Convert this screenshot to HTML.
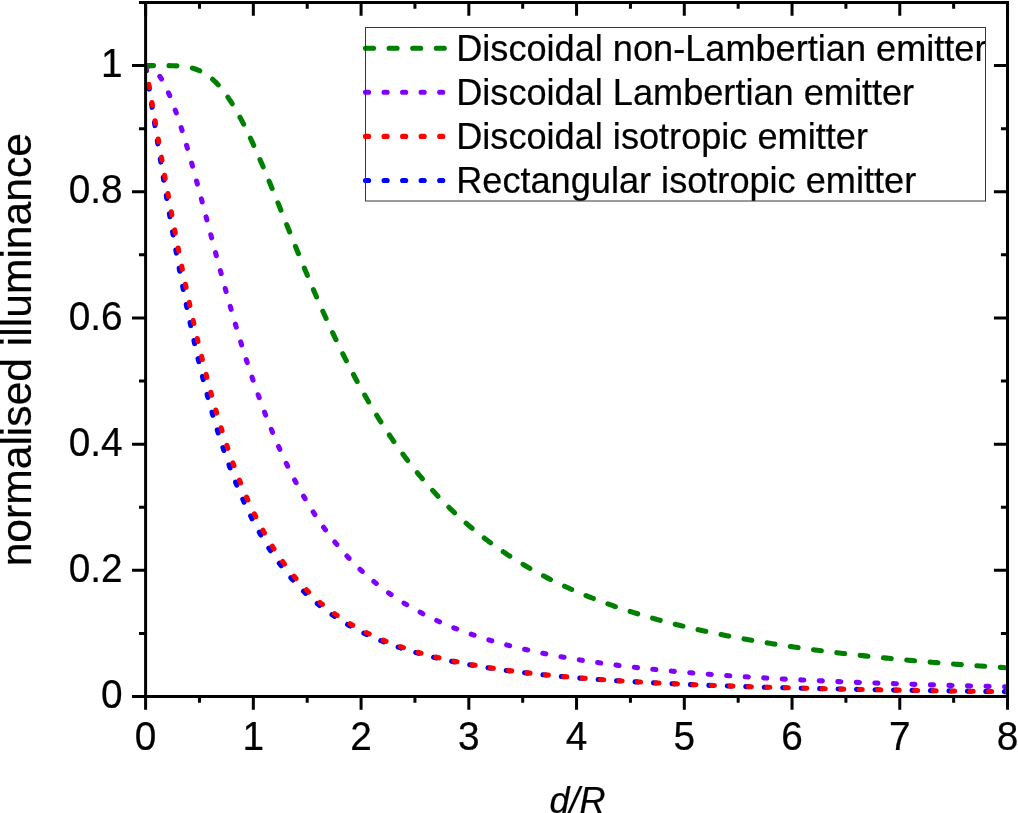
<!DOCTYPE html>
<html lang="en">
<head>
<meta charset="utf-8">
<title>Normalised illuminance versus d/R</title>
<style>
html,body{margin:0;padding:0;background:#fff;}
body{width:1018px;height:813px;overflow:hidden;}
svg{display:block;}
text{font-family:"Liberation Sans",Arial,Helvetica,sans-serif;fill:#000;stroke:#000;stroke-width:0.22;}
.curve{fill:none;stroke-width:5.1;stroke-linecap:round;stroke-linejoin:round;}
</style>
</head>
<body>
<svg width="1018" height="813" viewBox="0 0 1018 813">
<rect x="0" y="0" width="1018" height="813" fill="#ffffff"/>
<defs><clipPath id="plot"><rect x="145.60" y="2.51" width="861.92" height="693.99"/></clipPath></defs>
<g class="curve" clip-path="url(#plot)">
<path d="M145.60,65.60 L147.76,79.50 L149.92,93.37 L152.08,107.19 L154.24,120.95 L156.40,134.61 L158.56,148.15 L160.72,161.56 L162.88,174.81 L165.04,187.89 L167.20,200.78 L169.36,213.46 L171.52,225.92 L173.68,238.16 L175.84,250.15 L178.00,261.90 L180.16,273.39 L182.32,284.62 L184.48,295.59 L186.64,306.29 L188.80,316.72 L190.96,326.89 L193.12,336.78 L195.28,346.41 L197.44,355.77 L199.61,364.87 L201.77,373.71 L203.93,382.30 L206.09,390.63 L208.25,398.72 L210.41,406.57 L212.57,414.19 L214.73,421.58 L216.89,428.74 L219.05,435.68 L221.21,442.41 L223.37,448.94 L225.53,455.27 L227.69,461.40 L229.85,467.34 L232.01,473.10 L234.17,478.68 L236.33,484.09 L238.49,489.33 L240.65,494.42 L242.81,499.34 L244.97,504.12 L247.13,508.74 L249.29,513.23 L251.45,517.58 L253.61,521.80 L255.77,525.89 L257.93,529.86 L260.09,533.71 L262.25,537.45 L264.41,541.07 L266.57,544.58 L268.73,548.00 L270.89,551.31 L273.05,554.52 L275.21,557.64 L277.37,560.67 L279.53,563.61 L281.69,566.47 L283.85,569.25 L286.01,571.94 L288.17,574.56 L290.33,577.11 L292.49,579.59 L294.65,581.99 L296.81,584.33 L298.97,586.61 L301.13,588.82 L303.29,590.97 L305.45,593.06 L307.62,595.10 L309.78,597.08 L311.94,599.01 L314.10,600.89 L316.26,602.72 L318.42,604.50 L320.58,606.24 L322.74,607.93 L324.90,609.57 L327.06,611.18 L329.22,612.74 L331.38,614.27 L333.54,615.75 L335.70,617.20 L337.86,618.61 L340.02,619.99 L342.18,621.33 L344.34,622.64 L346.50,623.92 L348.66,625.17 L350.82,626.39 L352.98,627.57 L355.14,628.74 L357.30,629.87 L359.46,630.97 L361.62,632.06 L363.78,633.11 L365.94,634.14 L368.10,635.15 L370.26,636.14 L372.42,637.10 L374.58,638.04 L376.74,638.96 L378.90,639.86 L381.06,640.74 L383.22,641.60 L385.38,642.44 L387.54,643.26 L389.70,644.07 L391.86,644.86 L394.02,645.63 L396.18,646.38 L398.34,647.12 L400.50,647.84 L402.66,648.55 L404.82,649.25 L406.98,649.92 L409.14,650.59 L411.30,651.24 L413.46,651.88 L415.63,652.51 L417.79,653.12 L419.95,653.72 L422.11,654.31 L424.27,654.89 L426.43,655.45 L428.59,656.01 L430.75,656.55 L432.91,657.08 L435.07,657.61 L437.23,658.12 L439.39,658.62 L441.55,659.12 L443.71,659.60 L445.87,660.08 L448.03,660.55 L450.19,661.00 L452.35,661.45 L454.51,661.90 L456.67,662.33 L458.83,662.76 L460.99,663.17 L463.15,663.58 L465.31,663.99 L467.47,664.38 L469.63,664.77 L471.79,665.15 L473.95,665.53 L476.11,665.90 L478.27,666.26 L480.43,666.62 L482.59,666.97 L484.75,667.31 L486.91,667.65 L489.07,667.98 L491.23,668.31 L493.39,668.63 L495.55,668.95 L497.71,669.26 L499.87,669.57 L502.03,669.87 L504.19,670.17 L506.35,670.46 L508.51,670.74 L510.67,671.03 L512.83,671.30 L514.99,671.58 L517.15,671.85 L519.31,672.11 L521.47,672.37 L523.64,672.63 L525.80,672.88 L527.96,673.13 L530.12,673.37 L532.28,673.61 L534.44,673.85 L536.60,674.09 L538.76,674.32 L540.92,674.54 L543.08,674.77 L545.24,674.99 L547.40,675.20 L549.56,675.42 L551.72,675.63 L553.88,675.84 L556.04,676.04 L558.20,676.24 L560.36,676.44 L562.52,676.64 L564.68,676.83 L566.84,677.02 L569.00,677.21 L571.16,677.39 L573.32,677.57 L575.48,677.75 L577.64,677.93 L579.80,678.10 L581.96,678.28 L584.12,678.45 L586.28,678.61 L588.44,678.78 L590.60,678.94 L592.76,679.10 L594.92,679.26 L597.08,679.42 L599.24,679.57 L601.40,679.73 L603.56,679.88 L605.72,680.02 L607.88,680.17 L610.04,680.32 L612.20,680.46 L614.36,680.60 L616.52,680.74 L618.68,680.88 L620.84,681.01 L623.00,681.14 L625.16,681.28 L627.32,681.41 L629.48,681.54 L631.65,681.66 L633.81,681.79 L635.97,681.91 L638.13,682.03 L640.29,682.16 L642.45,682.27 L644.61,682.39 L646.77,682.51 L648.93,682.62 L651.09,682.74 L653.25,682.85 L655.41,682.96 L657.57,683.07 L659.73,683.18 L661.89,683.29 L664.05,683.39 L666.21,683.50 L668.37,683.60 L670.53,683.70 L672.69,683.80 L674.85,683.90 L677.01,684.00 L679.17,684.10 L681.33,684.19 L683.49,684.29 L685.65,684.38 L687.81,684.48 L689.97,684.57 L692.13,684.66 L694.29,684.75 L696.45,684.84 L698.61,684.93 L700.77,685.01 L702.93,685.10 L705.09,685.18 L707.25,685.27 L709.41,685.35 L711.57,685.43 L713.73,685.52 L715.89,685.60 L718.05,685.68 L720.21,685.75 L722.37,685.83 L724.53,685.91 L726.69,685.99 L728.85,686.06 L731.01,686.14 L733.17,686.21 L735.33,686.28 L737.49,686.35 L739.66,686.43 L741.82,686.50 L743.98,686.57 L746.14,686.64 L748.30,686.70 L750.46,686.77 L752.62,686.84 L754.78,686.91 L756.94,686.97 L759.10,687.04 L761.26,687.10 L763.42,687.17 L765.58,687.23 L767.74,687.29 L769.90,687.35 L772.06,687.41 L774.22,687.48 L776.38,687.54 L778.54,687.60 L780.70,687.65 L782.86,687.71 L785.02,687.77 L787.18,687.83 L789.34,687.88 L791.50,687.94 L793.66,688.00 L795.82,688.05 L797.98,688.11 L800.14,688.16 L802.30,688.21 L804.46,688.27 L806.62,688.32 L808.78,688.37 L810.94,688.42 L813.10,688.47 L815.26,688.52 L817.42,688.57 L819.58,688.62 L821.74,688.67 L823.90,688.72 L826.06,688.77 L828.22,688.82 L830.38,688.86 L832.54,688.91 L834.70,688.96 L836.86,689.00 L839.02,689.05 L841.18,689.09 L843.34,689.14 L845.50,689.18 L847.67,689.23 L849.83,689.27 L851.99,689.31 L854.15,689.36 L856.31,689.40 L858.47,689.44 L860.63,689.48 L862.79,689.52 L864.95,689.57 L867.11,689.61 L869.27,689.65 L871.43,689.69 L873.59,689.73 L875.75,689.77 L877.91,689.80 L880.07,689.84 L882.23,689.88 L884.39,689.92 L886.55,689.96 L888.71,689.99 L890.87,690.03 L893.03,690.07 L895.19,690.10 L897.35,690.14 L899.51,690.18 L901.67,690.21 L903.83,690.25 L905.99,690.28 L908.15,690.32 L910.31,690.35 L912.47,690.38 L914.63,690.42 L916.79,690.45 L918.95,690.48 L921.11,690.52 L923.27,690.55 L925.43,690.58 L927.59,690.61 L929.75,690.65 L931.91,690.68 L934.07,690.71 L936.23,690.74 L938.39,690.77 L940.55,690.80 L942.71,690.83 L944.87,690.86 L947.03,690.89 L949.19,690.92 L951.35,690.95 L953.51,690.98 L955.68,691.01 L957.84,691.04 L960.00,691.07 L962.16,691.09 L964.32,691.12 L966.48,691.15 L968.64,691.18 L970.80,691.21 L972.96,691.23 L975.12,691.26 L977.28,691.29 L979.44,691.31 L981.60,691.34 L983.76,691.37 L985.92,691.39 L988.08,691.42 L990.24,691.44 L992.40,691.47 L994.56,691.49 L996.72,691.52 L998.88,691.54 L1001.04,691.57 L1003.20,691.59 L1005.36,691.62 L1007.52,691.64" stroke="#0000ff" stroke-dasharray="3.1 15.372" stroke-dashoffset="-2.2"/>
<path d="M145.60,65.60 L147.76,78.25 L149.92,90.88 L152.08,103.48 L154.24,116.04 L156.40,128.53 L158.56,140.95 L160.72,153.29 L162.88,165.52 L165.04,177.64 L167.20,189.63 L169.36,201.48 L171.52,213.18 L173.68,224.73 L175.84,236.10 L178.00,247.30 L180.16,258.32 L182.32,269.14 L184.48,279.77 L186.64,290.20 L188.80,300.42 L190.96,310.43 L193.12,320.22 L195.28,329.80 L197.44,339.17 L199.61,348.31 L201.77,357.24 L203.93,365.95 L206.09,374.45 L208.25,382.73 L210.41,390.79 L212.57,398.65 L214.73,406.29 L216.89,413.73 L219.05,420.97 L221.21,428.01 L223.37,434.85 L225.53,441.49 L227.69,447.95 L229.85,454.23 L232.01,460.32 L234.17,466.24 L236.33,471.99 L238.49,477.56 L240.65,482.98 L242.81,488.23 L244.97,493.33 L247.13,498.28 L249.29,503.09 L251.45,507.75 L253.61,512.27 L255.77,516.66 L257.93,520.92 L260.09,525.05 L262.25,529.06 L264.41,532.96 L266.57,536.73 L268.73,540.40 L270.89,543.96 L273.05,547.41 L275.21,550.77 L277.37,554.02 L279.53,557.18 L281.69,560.25 L283.85,563.24 L286.01,566.13 L288.17,568.94 L290.33,571.68 L292.49,574.33 L294.65,576.91 L296.81,579.42 L298.97,581.85 L301.13,584.22 L303.29,586.53 L305.45,588.77 L307.62,590.94 L309.78,593.06 L311.94,595.12 L314.10,597.13 L316.26,599.08 L318.42,600.98 L320.58,602.83 L322.74,604.62 L324.90,606.38 L327.06,608.08 L329.22,609.74 L331.38,611.36 L333.54,612.94 L335.70,614.47 L337.86,615.97 L340.02,617.43 L342.18,618.85 L344.34,620.24 L346.50,621.59 L348.66,622.91 L350.82,624.20 L352.98,625.45 L355.14,626.68 L357.30,627.87 L359.46,629.04 L361.62,630.18 L363.78,631.29 L365.94,632.37 L368.10,633.43 L370.26,634.47 L372.42,635.48 L374.58,636.47 L376.74,637.43 L378.90,638.37 L381.06,639.30 L383.22,640.20 L385.38,641.08 L387.54,641.94 L389.70,642.78 L391.86,643.60 L394.02,644.41 L396.18,645.20 L398.34,645.97 L400.50,646.72 L402.66,647.46 L404.82,648.18 L406.98,648.89 L409.14,649.58 L411.30,650.26 L413.46,650.93 L415.63,651.58 L417.79,652.21 L419.95,652.84 L422.11,653.45 L424.27,654.05 L426.43,654.64 L428.59,655.21 L430.75,655.78 L432.91,656.33 L435.07,656.87 L437.23,657.40 L439.39,657.93 L441.55,658.44 L443.71,658.94 L445.87,659.43 L448.03,659.91 L450.19,660.39 L452.35,660.85 L454.51,661.31 L456.67,661.75 L458.83,662.19 L460.99,662.63 L463.15,663.05 L465.31,663.46 L467.47,663.87 L469.63,664.27 L471.79,664.67 L473.95,665.05 L476.11,665.43 L478.27,665.81 L480.43,666.17 L482.59,666.53 L484.75,666.89 L486.91,667.24 L489.07,667.58 L491.23,667.92 L493.39,668.25 L495.55,668.57 L497.71,668.89 L499.87,669.20 L502.03,669.51 L504.19,669.82 L506.35,670.12 L508.51,670.41 L510.67,670.70 L512.83,670.98 L514.99,671.26 L517.15,671.54 L519.31,671.81 L521.47,672.08 L523.64,672.34 L525.80,672.60 L527.96,672.85 L530.12,673.10 L532.28,673.35 L534.44,673.59 L536.60,673.83 L538.76,674.07 L540.92,674.30 L543.08,674.53 L545.24,674.75 L547.40,674.97 L549.56,675.19 L551.72,675.41 L553.88,675.62 L556.04,675.83 L558.20,676.03 L560.36,676.23 L562.52,676.43 L564.68,676.63 L566.84,676.82 L569.00,677.02 L571.16,677.20 L573.32,677.39 L575.48,677.57 L577.64,677.75 L579.80,677.93 L581.96,678.11 L584.12,678.28 L586.28,678.45 L588.44,678.62 L590.60,678.78 L592.76,678.95 L594.92,679.11 L597.08,679.27 L599.24,679.43 L601.40,679.58 L603.56,679.73 L605.72,679.88 L607.88,680.03 L610.04,680.18 L612.20,680.33 L614.36,680.47 L616.52,680.61 L618.68,680.75 L620.84,680.89 L623.00,681.02 L625.16,681.16 L627.32,681.29 L629.48,681.42 L631.65,681.55 L633.81,681.68 L635.97,681.80 L638.13,681.93 L640.29,682.05 L642.45,682.17 L644.61,682.29 L646.77,682.41 L648.93,682.52 L651.09,682.64 L653.25,682.75 L655.41,682.87 L657.57,682.98 L659.73,683.09 L661.89,683.20 L664.05,683.30 L666.21,683.41 L668.37,683.51 L670.53,683.62 L672.69,683.72 L674.85,683.82 L677.01,683.92 L679.17,684.02 L681.33,684.12 L683.49,684.21 L685.65,684.31 L687.81,684.40 L689.97,684.50 L692.13,684.59 L694.29,684.68 L696.45,684.77 L698.61,684.86 L700.77,684.95 L702.93,685.03 L705.09,685.12 L707.25,685.20 L709.41,685.29 L711.57,685.37 L713.73,685.45 L715.89,685.53 L718.05,685.61 L720.21,685.69 L722.37,685.77 L724.53,685.85 L726.69,685.93 L728.85,686.00 L731.01,686.08 L733.17,686.15 L735.33,686.23 L737.49,686.30 L739.66,686.37 L741.82,686.44 L743.98,686.52 L746.14,686.59 L748.30,686.65 L750.46,686.72 L752.62,686.79 L754.78,686.86 L756.94,686.92 L759.10,686.99 L761.26,687.06 L763.42,687.12 L765.58,687.18 L767.74,687.25 L769.90,687.31 L772.06,687.37 L774.22,687.43 L776.38,687.49 L778.54,687.55 L780.70,687.61 L782.86,687.67 L785.02,687.73 L787.18,687.79 L789.34,687.85 L791.50,687.90 L793.66,687.96 L795.82,688.01 L797.98,688.07 L800.14,688.12 L802.30,688.18 L804.46,688.23 L806.62,688.28 L808.78,688.34 L810.94,688.39 L813.10,688.44 L815.26,688.49 L817.42,688.54 L819.58,688.59 L821.74,688.64 L823.90,688.69 L826.06,688.74 L828.22,688.79 L830.38,688.83 L832.54,688.88 L834.70,688.93 L836.86,688.97 L839.02,689.02 L841.18,689.07 L843.34,689.11 L845.50,689.16 L847.67,689.20 L849.83,689.24 L851.99,689.29 L854.15,689.33 L856.31,689.37 L858.47,689.42 L860.63,689.46 L862.79,689.50 L864.95,689.54 L867.11,689.58 L869.27,689.62 L871.43,689.66 L873.59,689.70 L875.75,689.74 L877.91,689.78 L880.07,689.82 L882.23,689.86 L884.39,689.90 L886.55,689.93 L888.71,689.97 L890.87,690.01 L893.03,690.05 L895.19,690.08 L897.35,690.12 L899.51,690.15 L901.67,690.19 L903.83,690.23 L905.99,690.26 L908.15,690.30 L910.31,690.33 L912.47,690.36 L914.63,690.40 L916.79,690.43 L918.95,690.47 L921.11,690.50 L923.27,690.53 L925.43,690.56 L927.59,690.60 L929.75,690.63 L931.91,690.66 L934.07,690.69 L936.23,690.72 L938.39,690.75 L940.55,690.78 L942.71,690.81 L944.87,690.85 L947.03,690.88 L949.19,690.90 L951.35,690.93 L953.51,690.96 L955.68,690.99 L957.84,691.02 L960.00,691.05 L962.16,691.08 L964.32,691.11 L966.48,691.14 L968.64,691.16 L970.80,691.19 L972.96,691.22 L975.12,691.24 L977.28,691.27 L979.44,691.30 L981.60,691.33 L983.76,691.35 L985.92,691.38 L988.08,691.40 L990.24,691.43 L992.40,691.45 L994.56,691.48 L996.72,691.51 L998.88,691.53 L1001.04,691.55 L1003.20,691.58 L1005.36,691.60 L1007.52,691.63" stroke="#ff0000" stroke-dasharray="3.1 15.385" stroke-dashoffset="-0.5"/>
<path d="M145.60,65.60 L147.76,65.85 L149.92,66.61 L152.08,67.87 L154.24,69.63 L156.40,71.88 L158.56,74.60 L160.72,77.79 L162.88,81.42 L165.04,85.50 L167.20,89.98 L169.36,94.87 L171.52,100.12 L173.68,105.74 L175.84,111.68 L178.00,117.93 L180.16,124.47 L182.32,131.27 L184.48,138.31 L186.64,145.56 L188.80,153.00 L190.96,160.61 L193.12,168.36 L195.28,176.24 L197.44,184.22 L199.61,192.29 L201.77,200.41 L203.93,208.59 L206.09,216.79 L208.25,225.01 L210.41,233.22 L212.57,241.41 L214.73,249.58 L216.89,257.70 L219.05,265.77 L221.21,273.77 L223.37,281.71 L225.53,289.56 L227.69,297.32 L229.85,304.99 L232.01,312.56 L234.17,320.02 L236.33,327.37 L238.49,334.60 L240.65,341.72 L242.81,348.72 L244.97,355.59 L247.13,362.34 L249.29,368.97 L251.45,375.47 L253.61,381.84 L255.77,388.09 L257.93,394.20 L260.09,400.20 L262.25,406.06 L264.41,411.81 L266.57,417.43 L268.73,422.92 L270.89,428.30 L273.05,433.56 L275.21,438.70 L277.37,443.72 L279.53,448.63 L281.69,453.43 L283.85,458.12 L286.01,462.70 L288.17,467.18 L290.33,471.55 L292.49,475.82 L294.65,479.99 L296.81,484.06 L298.97,488.04 L301.13,491.93 L303.29,495.72 L305.45,499.43 L307.62,503.05 L309.78,506.58 L311.94,510.04 L314.10,513.41 L316.26,516.70 L318.42,519.92 L320.58,523.06 L322.74,526.13 L324.90,529.13 L327.06,532.06 L329.22,534.92 L331.38,537.71 L333.54,540.44 L335.70,543.11 L337.86,545.72 L340.02,548.27 L342.18,550.76 L344.34,553.20 L346.50,555.58 L348.66,557.91 L350.82,560.18 L352.98,562.41 L355.14,564.58 L357.30,566.71 L359.46,568.79 L361.62,570.82 L363.78,572.82 L365.94,574.76 L368.10,576.67 L370.26,578.53 L372.42,580.36 L374.58,582.14 L376.74,583.89 L378.90,585.60 L381.06,587.28 L383.22,588.92 L385.38,590.52 L387.54,592.09 L389.70,593.63 L391.86,595.14 L394.02,596.62 L396.18,598.07 L398.34,599.48 L400.50,600.87 L402.66,602.23 L404.82,603.57 L406.98,604.88 L409.14,606.16 L411.30,607.41 L413.46,608.65 L415.63,609.85 L417.79,611.04 L419.95,612.20 L422.11,613.34 L424.27,614.46 L426.43,615.55 L428.59,616.63 L430.75,617.68 L432.91,618.72 L435.07,619.73 L437.23,620.73 L439.39,621.71 L441.55,622.67 L443.71,623.61 L445.87,624.54 L448.03,625.45 L450.19,626.34 L452.35,627.22 L454.51,628.08 L456.67,628.92 L458.83,629.75 L460.99,630.57 L463.15,631.37 L465.31,632.16 L467.47,632.93 L469.63,633.69 L471.79,634.44 L473.95,635.18 L476.11,635.90 L478.27,636.61 L480.43,637.31 L482.59,637.99 L484.75,638.67 L486.91,639.33 L489.07,639.98 L491.23,640.63 L493.39,641.26 L495.55,641.88 L497.71,642.49 L499.87,643.09 L502.03,643.68 L504.19,644.26 L506.35,644.84 L508.51,645.40 L510.67,645.95 L512.83,646.50 L514.99,647.04 L517.15,647.57 L519.31,648.09 L521.47,648.60 L523.64,649.10 L525.80,649.60 L527.96,650.09 L530.12,650.57 L532.28,651.05 L534.44,651.52 L536.60,651.98 L538.76,652.43 L540.92,652.88 L543.08,653.32 L545.24,653.75 L547.40,654.18 L549.56,654.60 L551.72,655.02 L553.88,655.43 L556.04,655.83 L558.20,656.23 L560.36,656.62 L562.52,657.01 L564.68,657.39 L566.84,657.76 L569.00,658.13 L571.16,658.50 L573.32,658.86 L575.48,659.21 L577.64,659.56 L579.80,659.91 L581.96,660.25 L584.12,660.58 L586.28,660.92 L588.44,661.24 L590.60,661.57 L592.76,661.88 L594.92,662.20 L597.08,662.51 L599.24,662.81 L601.40,663.12 L603.56,663.41 L605.72,663.71 L607.88,664.00 L610.04,664.28 L612.20,664.57 L614.36,664.84 L616.52,665.12 L618.68,665.39 L620.84,665.66 L623.00,665.92 L625.16,666.19 L627.32,666.44 L629.48,666.70 L631.65,666.95 L633.81,667.20 L635.97,667.45 L638.13,667.69 L640.29,667.93 L642.45,668.17 L644.61,668.40 L646.77,668.63 L648.93,668.86 L651.09,669.08 L653.25,669.31 L655.41,669.53 L657.57,669.74 L659.73,669.96 L661.89,670.17 L664.05,670.38 L666.21,670.59 L668.37,670.79 L670.53,671.00 L672.69,671.20 L674.85,671.40 L677.01,671.59 L679.17,671.78 L681.33,671.98 L683.49,672.16 L685.65,672.35 L687.81,672.54 L689.97,672.72 L692.13,672.90 L694.29,673.08 L696.45,673.25 L698.61,673.43 L700.77,673.60 L702.93,673.77 L705.09,673.94 L707.25,674.11 L709.41,674.27 L711.57,674.44 L713.73,674.60 L715.89,674.76 L718.05,674.92 L720.21,675.07 L722.37,675.23 L724.53,675.38 L726.69,675.53 L728.85,675.68 L731.01,675.83 L733.17,675.98 L735.33,676.12 L737.49,676.27 L739.66,676.41 L741.82,676.55 L743.98,676.69 L746.14,676.83 L748.30,676.96 L750.46,677.10 L752.62,677.23 L754.78,677.36 L756.94,677.49 L759.10,677.62 L761.26,677.75 L763.42,677.88 L765.58,678.01 L767.74,678.13 L769.90,678.25 L772.06,678.38 L774.22,678.50 L776.38,678.62 L778.54,678.73 L780.70,678.85 L782.86,678.97 L785.02,679.08 L787.18,679.20 L789.34,679.31 L791.50,679.42 L793.66,679.53 L795.82,679.64 L797.98,679.75 L800.14,679.86 L802.30,679.96 L804.46,680.07 L806.62,680.17 L808.78,680.28 L810.94,680.38 L813.10,680.48 L815.26,680.58 L817.42,680.68 L819.58,680.78 L821.74,680.88 L823.90,680.97 L826.06,681.07 L828.22,681.17 L830.38,681.26 L832.54,681.35 L834.70,681.45 L836.86,681.54 L839.02,681.63 L841.18,681.72 L843.34,681.81 L845.50,681.90 L847.67,681.98 L849.83,682.07 L851.99,682.16 L854.15,682.24 L856.31,682.33 L858.47,682.41 L860.63,682.49 L862.79,682.58 L864.95,682.66 L867.11,682.74 L869.27,682.82 L871.43,682.90 L873.59,682.98 L875.75,683.06 L877.91,683.13 L880.07,683.21 L882.23,683.29 L884.39,683.36 L886.55,683.44 L888.71,683.51 L890.87,683.58 L893.03,683.66 L895.19,683.73 L897.35,683.80 L899.51,683.87 L901.67,683.94 L903.83,684.01 L905.99,684.08 L908.15,684.15 L910.31,684.22 L912.47,684.29 L914.63,684.36 L916.79,684.42 L918.95,684.49 L921.11,684.55 L923.27,684.62 L925.43,684.68 L927.59,684.75 L929.75,684.81 L931.91,684.87 L934.07,684.94 L936.23,685.00 L938.39,685.06 L940.55,685.12 L942.71,685.18 L944.87,685.24 L947.03,685.30 L949.19,685.36 L951.35,685.42 L953.51,685.48 L955.68,685.53 L957.84,685.59 L960.00,685.65 L962.16,685.70 L964.32,685.76 L966.48,685.82 L968.64,685.87 L970.80,685.93 L972.96,685.98 L975.12,686.03 L977.28,686.09 L979.44,686.14 L981.60,686.19 L983.76,686.24 L985.92,686.30 L988.08,686.35 L990.24,686.40 L992.40,686.45 L994.56,686.50 L996.72,686.55 L998.88,686.60 L1001.04,686.65 L1003.20,686.70 L1005.36,686.75 L1007.52,686.79" stroke="#8000ff" stroke-dasharray="3.1 15.44"/>
<path d="M145.60,65.60 L147.76,65.60 L149.92,65.60 L152.08,65.60 L154.24,65.60 L156.40,65.60 L158.56,65.60 L160.72,65.60 L162.88,65.61 L165.04,65.62 L167.20,65.64 L169.36,65.66 L171.52,65.70 L173.68,65.76 L175.84,65.85 L178.00,65.96 L180.16,66.11 L182.32,66.31 L184.48,66.57 L186.64,66.88 L188.80,67.28 L190.96,67.75 L193.12,68.33 L195.28,69.00 L197.44,69.79 L199.61,70.71 L201.77,71.76 L203.93,72.94 L206.09,74.28 L208.25,75.78 L210.41,77.43 L212.57,79.25 L214.73,81.25 L216.89,83.41 L219.05,85.75 L221.21,88.27 L223.37,90.96 L225.53,93.82 L227.69,96.86 L229.85,100.07 L232.01,103.44 L234.17,106.97 L236.33,110.66 L238.49,114.50 L240.65,118.49 L242.81,122.61 L244.97,126.87 L247.13,131.25 L249.29,135.74 L251.45,140.35 L253.61,145.06 L255.77,149.86 L257.93,154.75 L260.09,159.71 L262.25,164.75 L264.41,169.85 L266.57,175.01 L268.73,180.22 L270.89,185.47 L273.05,190.76 L275.21,196.08 L277.37,201.42 L279.53,206.78 L281.69,212.16 L283.85,217.54 L286.01,222.92 L288.17,228.30 L290.33,233.67 L292.49,239.03 L294.65,244.38 L296.81,249.70 L298.97,255.00 L301.13,260.28 L303.29,265.52 L305.45,270.73 L307.62,275.91 L309.78,281.05 L311.94,286.15 L314.10,291.21 L316.26,296.22 L318.42,301.19 L320.58,306.11 L322.74,310.99 L324.90,315.81 L327.06,320.58 L329.22,325.30 L331.38,329.97 L333.54,334.59 L335.70,339.15 L337.86,343.66 L340.02,348.11 L342.18,352.51 L344.34,356.85 L346.50,361.14 L348.66,365.37 L350.82,369.54 L352.98,373.66 L355.14,377.73 L357.30,381.74 L359.46,385.69 L361.62,389.59 L363.78,393.44 L365.94,397.23 L368.10,400.96 L370.26,404.65 L372.42,408.28 L374.58,411.86 L376.74,415.38 L378.90,418.86 L381.06,422.28 L383.22,425.66 L385.38,428.98 L387.54,432.26 L389.70,435.48 L391.86,438.66 L394.02,441.79 L396.18,444.88 L398.34,447.91 L400.50,450.91 L402.66,453.85 L404.82,456.76 L406.98,459.62 L409.14,462.43 L411.30,465.21 L413.46,467.94 L415.63,470.63 L417.79,473.28 L419.95,475.89 L422.11,478.46 L424.27,480.99 L426.43,483.48 L428.59,485.94 L430.75,488.36 L432.91,490.74 L435.07,493.09 L437.23,495.40 L439.39,497.68 L441.55,499.92 L443.71,502.13 L445.87,504.30 L448.03,506.45 L450.19,508.56 L452.35,510.64 L454.51,512.69 L456.67,514.71 L458.83,516.70 L460.99,518.66 L463.15,520.59 L465.31,522.49 L467.47,524.37 L469.63,526.22 L471.79,528.04 L473.95,529.83 L476.11,531.60 L478.27,533.34 L480.43,535.06 L482.59,536.75 L484.75,538.42 L486.91,540.06 L489.07,541.69 L491.23,543.28 L493.39,544.86 L495.55,546.41 L497.71,547.94 L499.87,549.45 L502.03,550.94 L504.19,552.41 L506.35,553.85 L508.51,555.28 L510.67,556.69 L512.83,558.07 L514.99,559.44 L517.15,560.79 L519.31,562.12 L521.47,563.43 L523.64,564.73 L525.80,566.01 L527.96,567.26 L530.12,568.51 L532.28,569.73 L534.44,570.94 L536.60,572.14 L538.76,573.31 L540.92,574.47 L543.08,575.62 L545.24,576.75 L547.40,577.87 L549.56,578.97 L551.72,580.05 L553.88,581.13 L556.04,582.18 L558.20,583.23 L560.36,584.26 L562.52,585.28 L564.68,586.28 L566.84,587.28 L569.00,588.25 L571.16,589.22 L573.32,590.18 L575.48,591.12 L577.64,592.05 L579.80,592.97 L581.96,593.88 L584.12,594.77 L586.28,595.66 L588.44,596.53 L590.60,597.39 L592.76,598.25 L594.92,599.09 L597.08,599.92 L599.24,600.74 L601.40,601.55 L603.56,602.35 L605.72,603.15 L607.88,603.93 L610.04,604.70 L612.20,605.46 L614.36,606.22 L616.52,606.96 L618.68,607.70 L620.84,608.43 L623.00,609.15 L625.16,609.86 L627.32,610.56 L629.48,611.26 L631.65,611.94 L633.81,612.62 L635.97,613.29 L638.13,613.95 L640.29,614.61 L642.45,615.26 L644.61,615.90 L646.77,616.53 L648.93,617.16 L651.09,617.78 L653.25,618.39 L655.41,618.99 L657.57,619.59 L659.73,620.18 L661.89,620.77 L664.05,621.34 L666.21,621.92 L668.37,622.48 L670.53,623.04 L672.69,623.60 L674.85,624.14 L677.01,624.68 L679.17,625.22 L681.33,625.75 L683.49,626.27 L685.65,626.79 L687.81,627.30 L689.97,627.81 L692.13,628.31 L694.29,628.81 L696.45,629.30 L698.61,629.79 L700.77,630.27 L702.93,630.74 L705.09,631.21 L707.25,631.68 L709.41,632.14 L711.57,632.60 L713.73,633.05 L715.89,633.50 L718.05,633.94 L720.21,634.38 L722.37,634.81 L724.53,635.24 L726.69,635.67 L728.85,636.09 L731.01,636.50 L733.17,636.91 L735.33,637.32 L737.49,637.73 L739.66,638.13 L741.82,638.52 L743.98,638.91 L746.14,639.30 L748.30,639.69 L750.46,640.07 L752.62,640.44 L754.78,640.82 L756.94,641.19 L759.10,641.55 L761.26,641.91 L763.42,642.27 L765.58,642.63 L767.74,642.98 L769.90,643.33 L772.06,643.67 L774.22,644.01 L776.38,644.35 L778.54,644.69 L780.70,645.02 L782.86,645.35 L785.02,645.68 L787.18,646.00 L789.34,646.32 L791.50,646.64 L793.66,646.95 L795.82,647.26 L797.98,647.57 L800.14,647.88 L802.30,648.18 L804.46,648.48 L806.62,648.78 L808.78,649.07 L810.94,649.36 L813.10,649.65 L815.26,649.94 L817.42,650.22 L819.58,650.50 L821.74,650.78 L823.90,651.06 L826.06,651.33 L828.22,651.61 L830.38,651.88 L832.54,652.14 L834.70,652.41 L836.86,652.67 L839.02,652.93 L841.18,653.19 L843.34,653.44 L845.50,653.69 L847.67,653.95 L849.83,654.19 L851.99,654.44 L854.15,654.69 L856.31,654.93 L858.47,655.17 L860.63,655.41 L862.79,655.64 L864.95,655.88 L867.11,656.11 L869.27,656.34 L871.43,656.57 L873.59,656.80 L875.75,657.02 L877.91,657.24 L880.07,657.46 L882.23,657.68 L884.39,657.90 L886.55,658.12 L888.71,658.33 L890.87,658.54 L893.03,658.75 L895.19,658.96 L897.35,659.17 L899.51,659.37 L901.67,659.58 L903.83,659.78 L905.99,659.98 L908.15,660.18 L910.31,660.37 L912.47,660.57 L914.63,660.76 L916.79,660.96 L918.95,661.15 L921.11,661.34 L923.27,661.52 L925.43,661.71 L927.59,661.89 L929.75,662.08 L931.91,662.26 L934.07,662.44 L936.23,662.62 L938.39,662.80 L940.55,662.97 L942.71,663.15 L944.87,663.32 L947.03,663.49 L949.19,663.67 L951.35,663.83 L953.51,664.00 L955.68,664.17 L957.84,664.34 L960.00,664.50 L962.16,664.66 L964.32,664.83 L966.48,664.99 L968.64,665.15 L970.80,665.31 L972.96,665.46 L975.12,665.62 L977.28,665.77 L979.44,665.93 L981.60,666.08 L983.76,666.23 L985.92,666.38 L988.08,666.53 L990.24,666.68 L992.40,666.83 L994.56,666.97 L996.72,667.12 L998.88,667.26 L1001.04,667.40 L1003.20,667.55 L1005.36,667.69 L1007.52,667.83" stroke="#008000" stroke-dasharray="7.9 15.55"/>
</g>
<rect x="365.5" y="27.5" width="620" height="173.5" fill="#ffffff" stroke="none"/>
<g class="curve">
<path d="M365.5,48.20 H447" stroke="#008000" stroke-dasharray="8 15.6"/>
<path d="M365.5,92.30 H447" stroke="#8000ff" stroke-dasharray="3.1 15.44"/>
<path d="M365.5,136.40 H447" stroke="#ff0000" stroke-dasharray="3.1 15.44"/>
<path d="M365.5,180.50 H447" stroke="#0000ff" stroke-dasharray="3.1 15.44"/>
</g>
<g font-size="36.15"><text x="456.2" y="60.60">Discoidal non-Lambertian emitter</text><text x="456.2" y="104.70">Discoidal Lambertian emitter</text><text x="456.2" y="148.80">Discoidal isotropic emitter</text><text x="456.2" y="192.90">Rectangular isotropic emitter</text></g>
<rect x="365.5" y="27.5" width="620" height="173.5" fill="none" stroke="#363636" stroke-width="1"/>
<path d="M145.60,696.50 v13.30 M145.60,2.51 v13.30 M199.47,696.50 v6.30 M199.47,2.51 v6.30 M253.34,696.50 v13.30 M253.34,2.51 v13.30 M307.21,696.50 v6.30 M307.21,2.51 v6.30 M361.08,696.50 v13.30 M361.08,2.51 v13.30 M414.95,696.50 v6.30 M414.95,2.51 v6.30 M468.82,696.50 v13.30 M468.82,2.51 v13.30 M522.69,696.50 v6.30 M522.69,2.51 v6.30 M576.56,696.50 v13.30 M576.56,2.51 v13.30 M630.43,696.50 v6.30 M630.43,2.51 v6.30 M684.30,696.50 v13.30 M684.30,2.51 v13.30 M738.17,696.50 v6.30 M738.17,2.51 v6.30 M792.04,696.50 v13.30 M792.04,2.51 v13.30 M845.91,696.50 v6.30 M845.91,2.51 v6.30 M899.78,696.50 v13.30 M899.78,2.51 v13.30 M953.65,696.50 v6.30 M953.65,2.51 v6.30 M1007.52,696.50 v13.30 M1007.52,2.51 v13.30 M145.60,696.50 h-13.60 M1007.52,696.50 h-13.60 M145.60,633.41 h-6.60 M1007.52,633.41 h-6.60 M145.60,570.32 h-13.60 M1007.52,570.32 h-13.60 M145.60,507.23 h-6.60 M1007.52,507.23 h-6.60 M145.60,444.14 h-13.60 M1007.52,444.14 h-13.60 M145.60,381.05 h-6.60 M1007.52,381.05 h-6.60 M145.60,317.96 h-13.60 M1007.52,317.96 h-13.60 M145.60,254.87 h-6.60 M1007.52,254.87 h-6.60 M145.60,191.78 h-13.60 M1007.52,191.78 h-13.60 M145.60,128.69 h-6.60 M1007.52,128.69 h-6.60 M145.60,65.60 h-13.60 M1007.52,65.60 h-13.60 M145.60,2.51 h-6.60 M1007.52,2.51 h-6.60" fill="none" stroke="#000" stroke-width="3"/>
<rect x="145.60" y="2.51" width="861.92" height="693.99" fill="none" stroke="#000" stroke-width="3"/>
<g font-size="38.8"><text transform="translate(145.60,749.5) scale(1,1.030)" text-anchor="middle">0</text><text transform="translate(253.34,749.5) scale(1,1.030)" text-anchor="middle">1</text><text transform="translate(361.08,749.5) scale(1,1.030)" text-anchor="middle">2</text><text transform="translate(468.82,749.5) scale(1,1.030)" text-anchor="middle">3</text><text transform="translate(576.56,749.5) scale(1,1.030)" text-anchor="middle">4</text><text transform="translate(684.30,749.5) scale(1,1.030)" text-anchor="middle">5</text><text transform="translate(792.04,749.5) scale(1,1.030)" text-anchor="middle">6</text><text transform="translate(899.78,749.5) scale(1,1.030)" text-anchor="middle">7</text><text transform="translate(1007.52,749.5) scale(1,1.030)" text-anchor="middle">8</text><text transform="translate(122.6,708.10) scale(1,1.030)" text-anchor="end">0</text><text transform="translate(122.6,581.92) scale(1,1.030)" text-anchor="end">0.2</text><text transform="translate(122.6,455.74) scale(1,1.030)" text-anchor="end">0.4</text><text transform="translate(122.6,329.56) scale(1,1.030)" text-anchor="end">0.6</text><text transform="translate(122.6,203.38) scale(1,1.030)" text-anchor="end">0.8</text><text transform="translate(122.6,77.20) scale(1,1.030)" text-anchor="end">1</text></g>
<text font-size="42.6" text-anchor="middle" transform="translate(30.7,349.7) rotate(-90)">normalised illuminance</text>
<text font-size="36" font-style="italic" text-anchor="middle" x="577.5" y="813">d/R</text>
</svg>
</body>
</html>
